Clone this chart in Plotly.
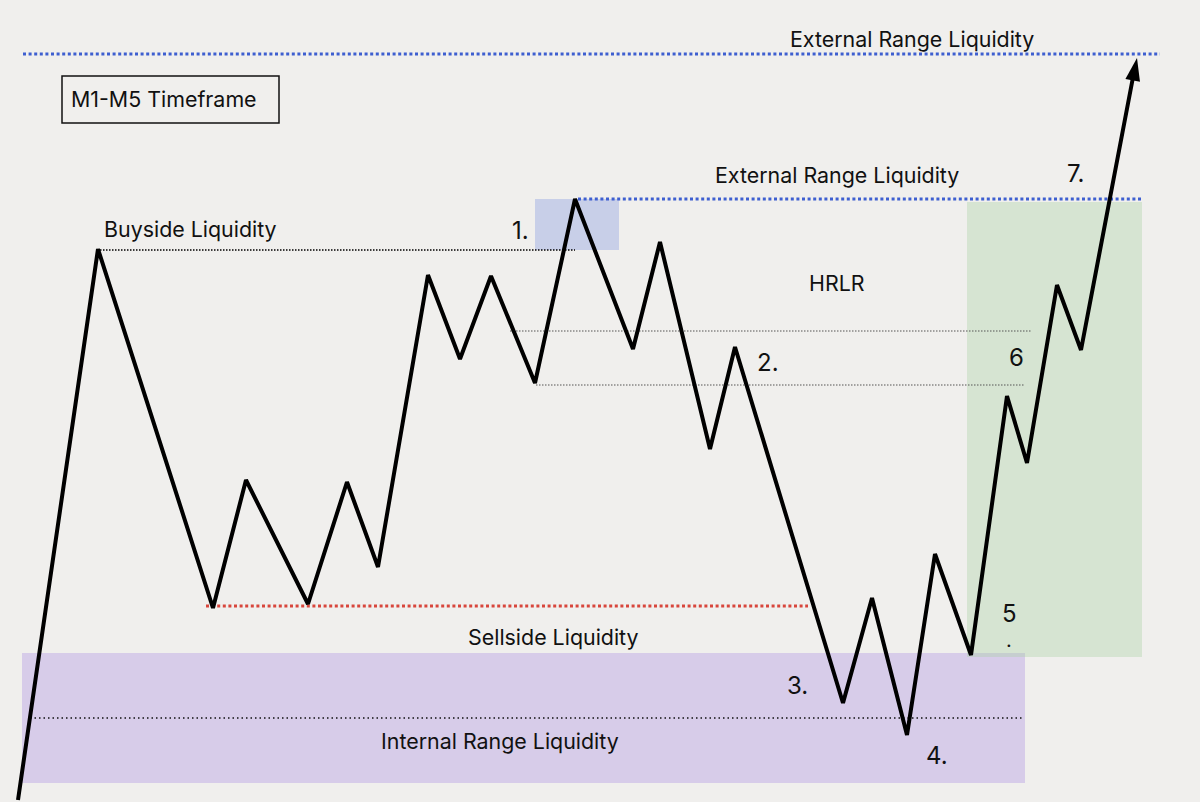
import plotly.graph_objects as go

# everything, axes run in picture units with y going down
price_x = [18, 98, 213, 246, 308, 347, 378, 428, 460, 491, 535, 575, 633, 660, 710, 735, 843, 872, 907, 935, 971, 1007, 1027, 1057, 1081, 1134]
price_y = [800, 249, 608, 480, 604, 482, 567, 275, 359, 276, 383, 199, 349, 242, 449, 347, 703, 598, 735, 554, 655, 396, 463, 285, 350, 72]
arrow_x = [1081, 1137]
arrow_y = [350, 58]

level_names = ["top", "ext", "buy", "hrlr_a", "hrlr_b", "sell", "irl"]
level_y = [54, 199, 250, 331, 385, 606, 718]
level_start = [23, 578, 100, 510, 536, 206, 30]
level_end = [1160, 1142, 575, 1032, 1024, 808, 1024]
level_color = ["#3e5fd0", "#3e5fd0", "#000000", "#555555", "#555555", "#d8463c", "#111111"]
level_width = [3, 3, 1.6, 1.2, 1.2, 3, 1.4]
level_dash = ["3px,2.6px", "3px,2.6px", "1.5px,1.5px", "1.5px,1.5px", "1.5px,1.5px", "3px,2.6px", "1.5px,3px"]

zone_x0 = [22, 967, 535]
zone_x1 = [1025, 1142, 619]
zone_y0 = [653, 202, 199]
zone_y1 = [783, 657, 250]
zone_color = ["rgba(190,170,230,0.5)", "rgba(170,210,165,0.38)", "rgba(130,150,225,0.36)"]

label_text = ["External Range Liquidity", "M1-M5 Timeframe", "External Range Liquidity", "7.", "Buyside Liquidity", "1.", "HRLR",
              "2.", "6", "5", ".", "Sellside Liquidity", "3.", "Internal Range Liquidity", "4."]
label_x = [912, 164, 837, 1076, 190, 520, 837, 768, 1016, 1009, 1009, 553, 797, 500, 937]
label_y = [39, 99, 175, 173, 229, 230, 283, 362, 357, 613, 640, 637, 685, 741, 755]
label_size = [21.4, 21.4, 21.4, 24, 21.4, 24, 21.4, 24, 24, 24, 20, 21.4, 24, 21.4, 24]

box_x = [62, 279]
box_y = [76, 123]

fig = go.Figure()

for i in range(len(zone_x0)):
    fig.add_shape(type="rect", x0=zone_x0[i], x1=zone_x1[i], y0=zone_y0[i], y1=zone_y1[i],
                  fillcolor=zone_color[i], line_width=0, layer="below")

fig.add_shape(type="rect", x0=box_x[0], x1=box_x[1], y0=box_y[0], y1=box_y[1],
              line=dict(color="#111111", width=1.5), layer="below")

for i in range(len(level_y)):
    fig.add_trace(go.Scatter(name=level_names[i], x=[level_start[i], level_end[i]], y=[level_y[i], level_y[i]], mode="lines",
                             line=dict(color=level_color[i], width=level_width[i], dash=level_dash[i])))

fig.add_trace(go.Scatter(name="price", x=price_x, y=price_y, mode="lines",
                         line=dict(color="#000000", width=4, shape="linear")))

# arrow head on the last leg only
fig.add_trace(go.Scatter(name="head", x=arrow_x, y=arrow_y, mode="markers",
                         marker=dict(symbol="arrow", angleref="previous", size=[0, 24], color="#000000", opacity=1, line_width=0)))

for i in range(len(label_text)):
    fig.add_annotation(x=label_x[i], y=label_y[i], text=label_text[i], showarrow=False,
                       font=dict(size=label_size[i], color="#111111"))

fig.update_xaxes(range=[0, 1200], visible=False, fixedrange=True)
fig.update_yaxes(range=[802, 0], visible=False, fixedrange=True)
fig.update_layout(width=1200, height=802, margin=dict(l=0, r=0, t=0, b=0),
                  paper_bgcolor="#f0efed", plot_bgcolor="#f0efed",
                  font_family="Inter", showlegend=False)

# page margin would push the figure 8px in
fig.write_html("out.html", config={"displayModeBar": False}, post_script="document.body.style.margin='0';")
